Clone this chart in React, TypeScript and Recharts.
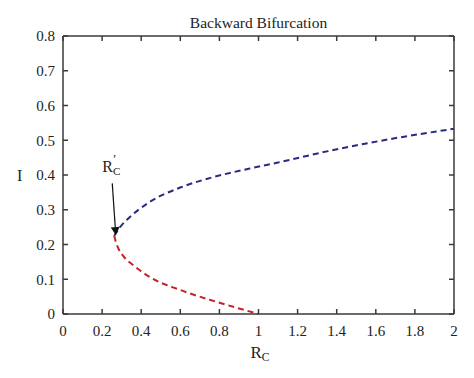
import { LineChart, Line, XAxis, YAxis, ReferenceLine } from 'recharts'

const FONT = '"Liberation Serif", "Times New Roman", serif'
const INK = '#222'
const AXIS = '#3a3a3a'
const BLUE = '#2a2a80'
const RED = '#c42326'

const X_TICKS = [0, 0.2, 0.4, 0.6, 0.8, 1, 1.2, 1.4, 1.6, 1.8, 2]
const Y_TICKS = [0, 0.1, 0.2, 0.3, 0.4, 0.5, 0.6, 0.7, 0.8]

// stable (upper) branch
const UPPER_R = [0.262, 0.292, 0.334, 0.384, 0.445, 0.6, 0.75, 0.95, 1.1, 1.35, 1.69, 2.0]
const UPPER_I = [0.225, 0.25, 0.275, 0.299, 0.323, 0.364, 0.391, 0.418, 0.436, 0.468, 0.505, 0.533]

// unstable (lower) branch
const LOWER_R = [0.262, 0.27, 0.283, 0.317, 0.358, 0.445, 0.6, 0.75, 0.9, 1.0]
const LOWER_I = [0.225, 0.208, 0.189, 0.161, 0.141, 0.106, 0.069, 0.041, 0.016, 0]

// arrow pointing at R'_C
const ARROW_FROM = { x: 0.252, y: 0.376 }
const ARROW_TO = { x: 0.27, y: 0.227 }

const upper = UPPER_R.map((r, i) => ({ R: r, I: UPPER_I[i] }))
const lower = LOWER_R.map((r, i) => ({ R: r, I: LOWER_I[i] }))

const tickStyle = { fontSize: 15, fontFamily: FONT, fill: INK }
const noLabel = () => <g />

function ArrowShape(props: any) {
  const { x1, y1, x2, y2 } = props
  const dx = x2 - x1
  const dy = y2 - y1
  const len = Math.hypot(dx, dy) || 1
  const ux = dx / len
  const uy = dy / len
  const head = 8
  const half = 4.5
  const bx = x2 - ux * head
  const by = y2 - uy * head
  const pts = `${x2},${y2} ${bx - uy * half},${by + ux * half} ${bx + uy * half},${by - ux * half}`
  return (
    <g>
      <line x1={x1} y1={y1} x2={bx} y2={by} stroke="#111" strokeWidth={1.2} />
      <polygon points={pts} fill="#111" />
      <text x={x1 - 10} y={y1 - 11} fontFamily={FONT} fill={INK} fontSize={16}>
        R
        <tspan fontSize={11} dy={3}>C</tspan>
        <tspan fontSize={13} dx={-7} dy={-12}>′</tspan>
      </text>
    </g>
  )
}

function TitleLabel(props: any) {
  const vb = props.viewBox
  return (
    <text x={vb.x + vb.width / 2} y={vb.y - 7} textAnchor="middle" fontSize={15.5} fontFamily={FONT} fill={INK}>
      Backward Bifurcation
    </text>
  )
}

function XTitle(props: any) {
  const vb = props.viewBox
  const cx = vb.x + vb.width / 2
  return (
    <text x={cx - 8} y={vb.y + 44} fontFamily={FONT} fill={INK} fontSize={17}>
      R
      <tspan fontSize={11.5} dy={3}>C</tspan>
    </text>
  )
}

export default function App() {
  return (
    <LineChart
      width={466}
      height={370}
      margin={{ top: 27, right: 19, bottom: 24, left: 0 }}
      style={{ fontFamily: FONT }}
    >
      <XAxis
        dataKey="R"
        type="number"
        domain={[0, 2]}
        ticks={X_TICKS}
        tickSize={-5}
        tickMargin={16}
        height={40}
        stroke={AXIS}
        strokeWidth={1.5}
        tick={tickStyle}
        label={{ content: <XTitle /> }}
      />
      <XAxis
        xAxisId="top"
        orientation="top"
        dataKey="R"
        type="number"
        domain={[0, 2]}
        ticks={X_TICKS}
        tickSize={-5}
        height={1}
        tick={noLabel}
        stroke={AXIS}
        strokeWidth={1.5}
        label={{ content: <TitleLabel /> }}
      />
      <YAxis
        type="number"
        domain={[0, 0.8]}
        ticks={Y_TICKS}
        tickSize={-5}
        tickMargin={13}
        width={55}
        stroke={AXIS}
        strokeWidth={1.5}
        tick={tickStyle}
        label={{ value: 'I', position: 'insideLeft', offset: 9, fontSize: 16, fontFamily: FONT, fill: INK }}
      />
      <YAxis
        yAxisId="right"
        orientation="right"
        type="number"
        domain={[0, 0.8]}
        ticks={Y_TICKS}
        tickSize={-5}
        width={1}
        tick={noLabel}
        stroke={AXIS}
        strokeWidth={1.5}
      />
      {/* invisible series so the mirrored frame axes get their ticks */}
      <Line
        xAxisId="top"
        yAxisId="right"
        data={upper}
        dataKey="I"
        stroke="none"
        dot={false}
        activeDot={false}
        legendType="none"
        isAnimationActive={false}
      />
      <Line
        data={upper}
        dataKey="I"
        type="monotone"
        stroke={BLUE}
        strokeWidth={2}
        strokeDasharray="6 4"
        dot={false}
        isAnimationActive={false}
      />
      <Line
        data={lower}
        dataKey="I"
        type="monotone"
        stroke={RED}
        strokeWidth={2}
        strokeDasharray="6 4"
        dot={false}
        isAnimationActive={false}
      />
      <ReferenceLine segment={[ARROW_FROM, ARROW_TO]} shape={ArrowShape} />
    </LineChart>
  )
}
